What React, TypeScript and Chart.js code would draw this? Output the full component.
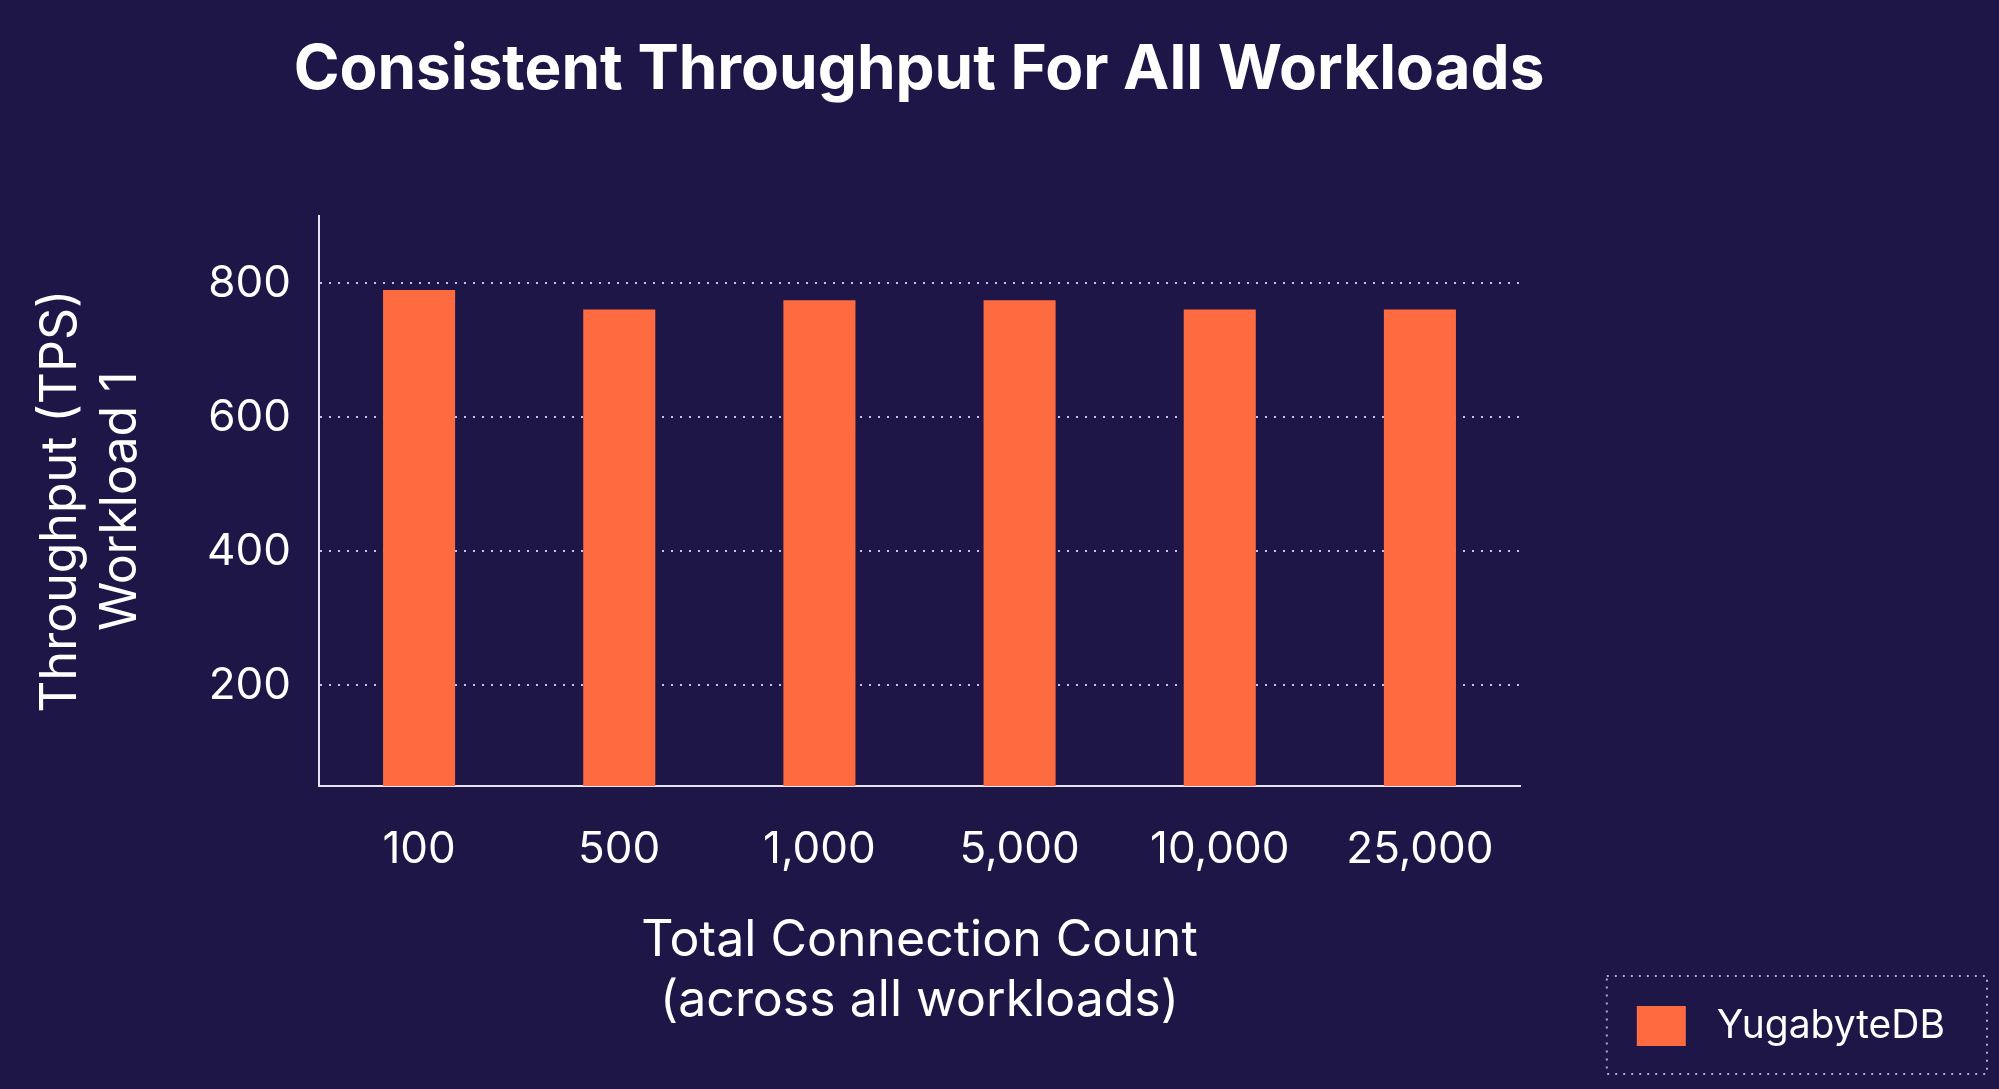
import { useEffect, useRef } from 'react';
import { Chart, registerables } from 'chart.js';

Chart.register(...registerables);

const categories = ['100', '500', '1,000', '5,000', '10,000', '25,000'];
const throughput = [790, 761, 775, 775, 761, 761];
const yTicks = [200, 400, 600, 800];
const seriesName = 'YugabyteDB';

const BG = '#1f1648';
const BAR = '#ff6b40';
const FONT = 'Inter, "Noto Sans", sans-serif';

// dotted box legend in the bottom right corner
const boxLegend = {
  id: 'boxLegend',
  afterDraw(chart: Chart) {
    const { ctx, width, height } = chart;
    const ds = chart.data.datasets[0];
    const label = String(ds.label ?? '');
    ctx.save();
    ctx.font = `39px ${FONT}`;
    const textW = ctx.measureText(label).width;
    const boxH = 98;
    const right = width - 12;
    const bottom = height - 15;
    const boxW = 30 + 49 + 31 + textW + 42;
    const left = right - boxW;
    const top = bottom - boxH;

    ctx.strokeStyle = 'rgba(200, 196, 222, 0.85)';
    ctx.lineWidth = 2;
    ctx.setLineDash([2, 6]);
    ctx.strokeRect(left, top, boxW, boxH);
    ctx.setLineDash([]);

    const midY = top + boxH / 2 + 1;
    ctx.fillStyle = ds.backgroundColor as string;
    ctx.fillRect(left + 30, midY - 20, 49, 40);

    ctx.fillStyle = '#ffffff';
    ctx.textBaseline = 'middle';
    ctx.textAlign = 'left';
    ctx.fillText(label, left + 30 + 49 + 31, midY);
    ctx.restore();
  },
};

export default function App() {
  const canvasRef = useRef<HTMLCanvasElement>(null);
  const chartRef = useRef<Chart | null>(null);

  useEffect(() => {
    if (!canvasRef.current) return;
    if (chartRef.current) chartRef.current.destroy();

    chartRef.current = new Chart(canvasRef.current, {
      type: 'bar',
      data: {
        labels: categories,
        datasets: [
          {
            label: seriesName,
            data: throughput,
            backgroundColor: BAR,
            barPercentage: 0.36,
            categoryPercentage: 1,
            yAxisID: 'y',
          },
        ],
      },
      options: {
        animation: false,
        responsive: true,
        maintainAspectRatio: false,
        layout: { padding: { left: 0, right: 161, top: 0, bottom: 0 } },
        plugins: {
          legend: { display: false },
          tooltip: { enabled: false },
          title: {
            display: true,
            text: 'Consistent Throughput For All Workloads',
            color: '#ffffff',
            font: { family: FONT, size: 62, weight: 'bold', lineHeight: 1.2 },
            padding: { top: 33, bottom: 109 },
          },
        },
        scales: {
          x: {
            type: 'category',
            grid: { display: false, drawTicks: false },
            border: { display: true, color: '#e6e4f0', width: 2 },
            ticks: {
              color: '#ffffff',
              font: { family: FONT, size: 44, lineHeight: 1.2 },
              padding: 37,
              maxRotation: 0,
              autoSkip: false,
            },
            title: {
              display: true,
              text: ['Total Connection Count', '(across all workloads)'],
              color: '#ffffff',
              font: { family: FONT, size: 50, lineHeight: 1.2 },
              padding: { top: 0, bottom: 58 },
            },
            afterFit(scale: any) {
              scale.height = 303;
            },
          },
          y: {
            type: 'linear',
            position: 'left',
            min: 50,
            max: 900,
            afterBuildTicks(scale: any) {
              scale.ticks = yTicks.map((v) => ({ value: v }));
            },
            grid: {
              color: 'rgba(210, 205, 235, 0.95)',
              lineWidth: 2,
              drawTicks: false,
            },
            border: { display: true, color: '#e6e4f0', width: 2, dash: [2, 7] },
            ticks: {
              color: '#ffffff',
              font: { family: FONT, size: 44 },
              padding: 28,
            },
            title: {
              display: true,
              text: ['Throughput (TPS)', 'Workload 1'],
              color: '#ffffff',
              font: { family: FONT, size: 50, lineHeight: 1.2 },
              padding: { top: 31, bottom: 0 },
            },
            afterFit(scale: any) {
              scale.width = 319;
            },
          },
          y1: {
            type: 'linear',
            position: 'right',
            display: true,
            grid: { display: false, drawTicks: false },
            border: { display: false },
            ticks: { display: false },
            afterFit(scale: any) {
              scale.width = 318;
            },
          },
        },
      },
      plugins: [boxLegend],
    });

    return () => {
      if (chartRef.current) {
        chartRef.current.destroy();
        chartRef.current = null;
      }
    };
  }, []);

  return (
    <div
      style={{
        position: 'fixed',
        left: 0,
        top: 0,
        width: '100vw',
        height: '100vh',
        background: BG,
      }}
    >
      <canvas ref={canvasRef} />
    </div>
  );
}
